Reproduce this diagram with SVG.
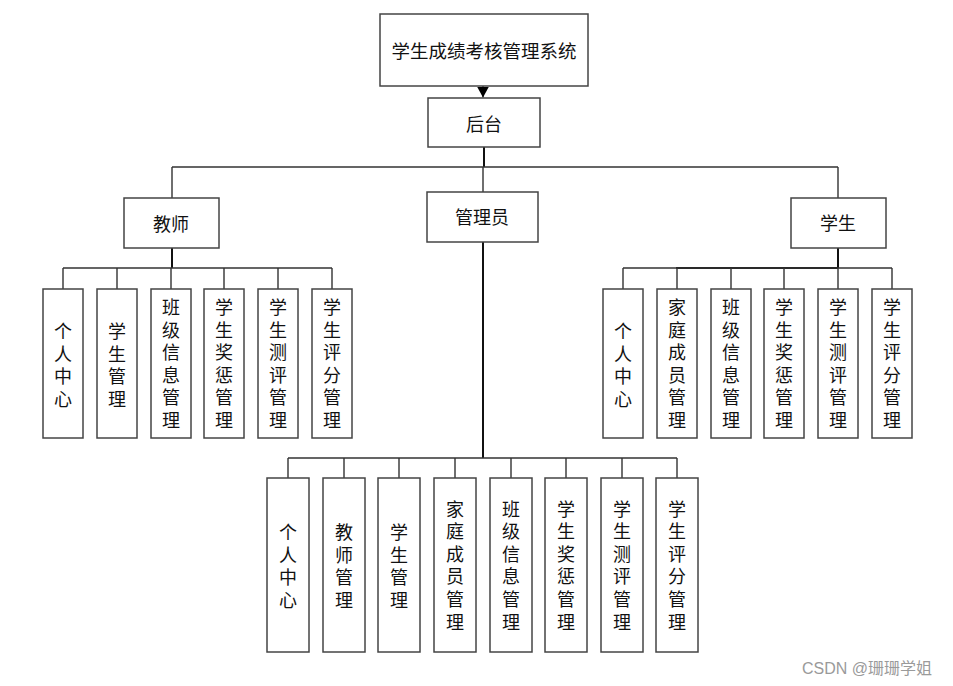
<svg xmlns="http://www.w3.org/2000/svg" width="953" height="686" viewBox="0 0 953 686">
<style>
.box{fill:#fff;stroke:#444;stroke-width:1.5}
.t{font-family:"Noto Sans CJK SC","Noto Sans",sans-serif;font-size:18px;fill:#111;text-anchor:middle;dominant-baseline:central}
.tt{font-size:18.5px}
.c{fill:none;stroke:#333;stroke-width:1.4}
.ct{fill:none;stroke:#111;stroke-width:2}
.wm{font-family:"Liberation Sans","Noto Sans CJK SC",sans-serif;font-size:16px;fill:#9a9a9a}
</style>
<defs>
<marker id="arr" viewBox="0 0 11 12" refX="11" refY="6" markerWidth="11" markerHeight="12" markerUnits="userSpaceOnUse" orient="auto">
<path d="M0,0 L11,6 L0,12 z" fill="#000"/>
</marker>
</defs>
<rect width="953" height="686" fill="#fff"/>
<g id="connectors">
<path class="c" d="M483,86 V97.5" marker-end="url(#arr)"/>
<path class="ct" d="M484,147 V167"/>
<path class="c" d="M172,167 H838 M172,167 V198 M838,167 V198 M483,167 V192"/>
<path class="ct" d="M172,248 V268 M483,242 V458 M838,248 V268 M676,268 H838"/>
<path class="c" d="M63,268 H332 M63,268 V289 M117,268 V289 M171,268 V289 M224,268 V289 M278,268 V289 M332,268 V289"/>
<path class="c" d="M623,268 H892 M623,268 V289 M677,268 V289 M731,268 V289 M784,268 V289 M838,268 V289 M892,268 V289"/>
<path class="c" d="M288,458 H677 M288,458 V478 M344,458 V478 M399,458 V478 M455,458 V478 M511,458 V478 M566,458 V478 M622,458 V478 M677,458 V478"/>
</g>
<g id="root"><rect class="box" x="380" y="14" width="208" height="72"/><text class="t tt" x="484" y="50">学生成绩考核管理系统</text></g>
<g id="houtai"><rect class="box" x="428" y="98" width="112" height="49"/><text class="t" x="484" y="123">后台</text></g>
<g id="teacher"><rect class="box" x="124" y="198" width="95" height="50"/><text class="t" x="171" y="223">教师</text></g>
<g id="admin"><rect class="box" x="427" y="192" width="111" height="50"/><text class="t" x="482" y="216">管理员</text></g>
<g id="student"><rect class="box" x="791" y="198" width="95" height="50"/><text class="t" x="838" y="222">学生</text></g>

<g id="t1"><rect class="box" x="43" y="289" width="40" height="149"/><text class="t"><tspan x="63" y="330">个</tspan><tspan x="63" y="352.6">人</tspan><tspan x="63" y="375.2">中</tspan><tspan x="63" y="397.8">心</tspan></text></g>
<g id="t2"><rect class="box" x="97" y="289" width="40" height="149"/><text class="t"><tspan x="117" y="330">学</tspan><tspan x="117" y="352.6">生</tspan><tspan x="117" y="375.2">管</tspan><tspan x="117" y="397.8">理</tspan></text></g>
<g id="t3"><rect class="box" x="151" y="289" width="40" height="149"/><text class="t"><tspan x="171" y="306">班</tspan><tspan x="171" y="328.6">级</tspan><tspan x="171" y="351.2">信</tspan><tspan x="171" y="373.8">息</tspan><tspan x="171" y="396.4">管</tspan><tspan x="171" y="419">理</tspan></text></g>
<g id="t4"><rect class="box" x="204" y="289" width="40" height="149"/><text class="t"><tspan x="224" y="306">学</tspan><tspan x="224" y="328.6">生</tspan><tspan x="224" y="351.2">奖</tspan><tspan x="224" y="373.8">惩</tspan><tspan x="224" y="396.4">管</tspan><tspan x="224" y="419">理</tspan></text></g>
<g id="t5"><rect class="box" x="258" y="289" width="40" height="149"/><text class="t"><tspan x="278" y="306">学</tspan><tspan x="278" y="328.6">生</tspan><tspan x="278" y="351.2">测</tspan><tspan x="278" y="373.8">评</tspan><tspan x="278" y="396.4">管</tspan><tspan x="278" y="419">理</tspan></text></g>
<g id="t6"><rect class="box" x="312" y="289" width="40" height="149"/><text class="t"><tspan x="332" y="306">学</tspan><tspan x="332" y="328.6">生</tspan><tspan x="332" y="351.2">评</tspan><tspan x="332" y="373.8">分</tspan><tspan x="332" y="396.4">管</tspan><tspan x="332" y="419">理</tspan></text></g>

<g id="s1"><rect class="box" x="603" y="289" width="40" height="149"/><text class="t"><tspan x="623" y="330">个</tspan><tspan x="623" y="352.6">人</tspan><tspan x="623" y="375.2">中</tspan><tspan x="623" y="397.8">心</tspan></text></g>
<g id="s2"><rect class="box" x="657" y="289" width="40" height="149"/><text class="t"><tspan x="677" y="306">家</tspan><tspan x="677" y="328.6">庭</tspan><tspan x="677" y="351.2">成</tspan><tspan x="677" y="373.8">员</tspan><tspan x="677" y="396.4">管</tspan><tspan x="677" y="419">理</tspan></text></g>
<g id="s3"><rect class="box" x="711" y="289" width="40" height="149"/><text class="t"><tspan x="731" y="306">班</tspan><tspan x="731" y="328.6">级</tspan><tspan x="731" y="351.2">信</tspan><tspan x="731" y="373.8">息</tspan><tspan x="731" y="396.4">管</tspan><tspan x="731" y="419">理</tspan></text></g>
<g id="s4"><rect class="box" x="764" y="289" width="40" height="149"/><text class="t"><tspan x="784" y="306">学</tspan><tspan x="784" y="328.6">生</tspan><tspan x="784" y="351.2">奖</tspan><tspan x="784" y="373.8">惩</tspan><tspan x="784" y="396.4">管</tspan><tspan x="784" y="419">理</tspan></text></g>
<g id="s5"><rect class="box" x="818" y="289" width="40" height="149"/><text class="t"><tspan x="838" y="306">学</tspan><tspan x="838" y="328.6">生</tspan><tspan x="838" y="351.2">测</tspan><tspan x="838" y="373.8">评</tspan><tspan x="838" y="396.4">管</tspan><tspan x="838" y="419">理</tspan></text></g>
<g id="s6"><rect class="box" x="872" y="289" width="40" height="149"/><text class="t"><tspan x="892" y="306">学</tspan><tspan x="892" y="328.6">生</tspan><tspan x="892" y="351.2">评</tspan><tspan x="892" y="373.8">分</tspan><tspan x="892" y="396.4">管</tspan><tspan x="892" y="419">理</tspan></text></g>

<g id="a1"><rect class="box" x="267" y="478" width="42" height="174"/><text class="t"><tspan x="288" y="531">个</tspan><tspan x="288" y="553.6">人</tspan><tspan x="288" y="576.2">中</tspan><tspan x="288" y="598.8">心</tspan></text></g>
<g id="a2"><rect class="box" x="323" y="478" width="42" height="174"/><text class="t"><tspan x="344" y="531">教</tspan><tspan x="344" y="553.6">师</tspan><tspan x="344" y="576.2">管</tspan><tspan x="344" y="598.8">理</tspan></text></g>
<g id="a3"><rect class="box" x="378" y="478" width="42" height="174"/><text class="t"><tspan x="399" y="531">学</tspan><tspan x="399" y="553.6">生</tspan><tspan x="399" y="576.2">管</tspan><tspan x="399" y="598.8">理</tspan></text></g>
<g id="a4"><rect class="box" x="434" y="478" width="42" height="174"/><text class="t"><tspan x="455" y="507.5">家</tspan><tspan x="455" y="530.1">庭</tspan><tspan x="455" y="552.7">成</tspan><tspan x="455" y="575.3">员</tspan><tspan x="455" y="597.9">管</tspan><tspan x="455" y="620.5">理</tspan></text></g>
<g id="a5"><rect class="box" x="490" y="478" width="42" height="174"/><text class="t"><tspan x="511" y="507.5">班</tspan><tspan x="511" y="530.1">级</tspan><tspan x="511" y="552.7">信</tspan><tspan x="511" y="575.3">息</tspan><tspan x="511" y="597.9">管</tspan><tspan x="511" y="620.5">理</tspan></text></g>
<g id="a6"><rect class="box" x="545" y="478" width="42" height="174"/><text class="t"><tspan x="566" y="507.5">学</tspan><tspan x="566" y="530.1">生</tspan><tspan x="566" y="552.7">奖</tspan><tspan x="566" y="575.3">惩</tspan><tspan x="566" y="597.9">管</tspan><tspan x="566" y="620.5">理</tspan></text></g>
<g id="a7"><rect class="box" x="601" y="478" width="42" height="174"/><text class="t"><tspan x="622" y="507.5">学</tspan><tspan x="622" y="530.1">生</tspan><tspan x="622" y="552.7">测</tspan><tspan x="622" y="575.3">评</tspan><tspan x="622" y="597.9">管</tspan><tspan x="622" y="620.5">理</tspan></text></g>
<g id="a8"><rect class="box" x="656" y="478" width="42" height="174"/><text class="t"><tspan x="677" y="507.5">学</tspan><tspan x="677" y="530.1">生</tspan><tspan x="677" y="552.7">评</tspan><tspan x="677" y="575.3">分</tspan><tspan x="677" y="597.9">管</tspan><tspan x="677" y="620.5">理</tspan></text></g>

<text class="wm" x="802" y="674">CSDN @珊珊学姐</text>
</svg>
